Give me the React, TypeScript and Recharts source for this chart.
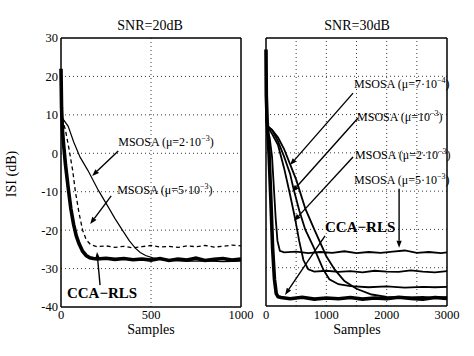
import React from 'react';
import { LineChart, Line, XAxis, YAxis, ReferenceLine, ReferenceDot } from 'recharts';

// ---------- Left panel (SNR = 20 dB) ----------
const leftXTicks = [0, 500, 1000];
const leftYTicks = [-40, -30, -20, -10, 0, 10, 20, 30];
const leftGridX = [500];
const leftGridY = [-30, -20, -10, 0, 10, 20];

const leftCcaSamples = [0, 3, 8, 15, 25, 40, 55, 70, 85, 100, 120, 140, 160, 180, 200, 250, 300, 350, 400, 450, 500, 550, 600, 650, 700, 750, 800, 850, 900, 950, 1000];
const leftCcaIsi = [22, 12, 6, 2, -3, -9, -14.5, -18.5, -21.5, -23.5, -25.5, -26.6, -27.2, -27.4, -27.5, -27.3, -27.6, -27.4, -27.7, -27.5, -27.8, -27.4, -27.9, -27.5, -27.8, -27.3, -27.9, -27.6, -27.4, -27.8, -27.5];

const leftMu5Samples = [0, 3, 10, 25, 45, 65, 80, 100, 120, 140, 165, 200, 250, 300, 350, 400, 450, 500, 550, 600, 650, 700, 750, 800, 850, 900, 950, 1000];
const leftMu5Isi = [20, 10, 8.5, 6, 1, -4.5, -10, -15.5, -20, -22.5, -23.8, -24.3, -24.1, -24.5, -24.2, -24.6, -24.3, -24.0, -24.4, -24.2, -24.5, -24.1, -24.3, -24.0, -24.4, -24.2, -23.9, -24.1];

const leftMu2Samples = [0, 3, 10, 40, 70, 106, 150, 207, 263, 300, 341, 380, 413, 440, 470, 510, 550, 600, 650, 700, 800, 900, 1000];
const leftMu2Isi = [21, 11, 9, 7, 3, -1, -4.5, -9.6, -14, -17, -20, -22.8, -24.7, -25.8, -26.6, -27.2, -27.6, -27.9, -28, -28.1, -28, -28.2, -28.1];

// ---------- Right panel (SNR = 30 dB) ----------
const rightXTicks = [0, 1000, 2000, 3000];
const rightGridX = [500, 1000, 1500, 2000, 2500];
const rightGridY = [-30, -20, -10, 0, 10, 20];

const rightCcaSamples = [0, 5, 20, 50, 80, 110, 140, 170, 200, 250, 400, 600, 800, 1000, 1200, 1400, 1600, 1800, 2000, 2200, 2400, 2600, 2800, 3000];
const rightCcaIsi = [27, 15, 8, 0, -12, -25, -33, -36.8, -37.6, -37.8, -38.1, -37.7, -38.2, -37.9, -38.1, -37.8, -38.2, -37.9, -38.1, -37.7, -38.0, -38.2, -37.8, -38.0];

const rightMu5Samples = [0, 5, 20, 60, 100, 130, 160, 190, 230, 300, 500, 700, 900, 1100, 1300, 1500, 1700, 1900, 2100, 2300, 2500, 2700, 2900, 3000];
const rightMu5Isi = [18, 9, 6, 4, -1, -9, -17, -23, -25.6, -26, -25.8, -26.2, -25.9, -26.1, -25.7, -26.2, -25.9, -26.1, -25.8, -25.5, -26.1, -25.9, -26.2, -26.0];

const rightMu2Samples = [0, 5, 20, 100, 200, 300, 400, 480, 550, 620, 700, 800, 1000, 1200, 1400, 1600, 1800, 2000, 2200, 2400, 2600, 2800, 3000];
const rightMu2Isi = [17, 9, 7, 5, 2, -4, -11, -17, -23, -28, -30.4, -31, -30.8, -31.1, -30.9, -31.2, -30.8, -31.0, -31.1, -30.7, -31.0, -31.2, -30.9];

const rightMu1Samples = [0, 5, 20, 100, 200, 300, 400, 450, 550, 650, 800, 950, 1050, 1200, 1400, 1700, 2000, 2300, 2600, 2800, 3000];
const rightMu1Isi = [17, 9, 7, 6, 3, -1, -5.5, -9, -15, -20, -25, -30.5, -33, -34.3, -34.8, -35.1, -34.9, -35.2, -35.0, -35.1, -35.0];

const rightMu07Samples = [0, 5, 20, 100, 200, 300, 400, 500, 650, 800, 1000, 1140, 1300, 1500, 1750, 2000, 2300, 2600, 2800, 3000];
const rightMu07Isi = [16, 9, 7, 6, 4, 1, -3, -7, -14.5, -20, -27, -30.5, -33.5, -35.5, -37, -37.6, -37.8, -37.6, -37.9, -37.7];

// ---------- Annotations (data coordinates) ----------
const leftLabels = [
  { text: 'MSOSA (μ=2·10', sup: '−3', x: 318, y: 1.9, bold: false },
  { text: 'MSOSA (μ=5·10', sup: '−3', x: 312, y: -10.6, bold: false },
  { text: 'CCA−RLS', sup: '', x: 33, y: -37.7, bold: true },
];
const leftArrows = [
  { x1: 318, y1: 0.6, x2: 173, y2: -5.9 },
  { x1: 279, y1: -11.1, x2: 162, y2: -18.4 },
  { x1: 217, y1: -34.3, x2: 200, y2: -25.7 },
];
const rightLabels = [
  { text: 'MSOSA (μ=7·10', sup: '−4', x: 1459, y: 16.9, bold: false },
  { text: 'MSOSA (μ=10', sup: '−3', x: 1509, y: 8.3, bold: false },
  { text: 'MSOSA (μ=2·10', sup: '−3', x: 1476, y: -1.6, bold: false },
  { text: 'MSOSA (μ=5·10', sup: '−3', x: 1459, y: -8.2, bold: false },
  { text: 'CCA−RLS', sup: '', x: 978, y: -20.7, bold: true },
];
const rightArrows = [
  { x1: 1443, y1: 15.6, x2: 398, y2: -3.2 },
  { x1: 1526, y1: 9.1, x2: 431, y2: -10.2 },
  { x1: 1443, y1: -1.1, x2: 464, y2: -17.8 },
  { x1: 2206, y1: -9.4, x2: 2206, y2: -24.8 },
  { x1: 978, y1: -21.7, x2: 315, y2: -37.1 },
];

const FONT = '"Liberation Serif", "DejaVu Serif", serif';

function pts(xs: number[], ys: number[]) {
  return xs.map((x, i) => ({ x, y: ys[i] }));
}

const ArrowShape = (props: any) => {
  const { x1, y1, x2, y2 } = props;
  const ang = Math.atan2(y2 - y1, x2 - x1);
  const L = 7;
  const W = 2.6;
  const bx = x2 - L * Math.cos(ang);
  const by = y2 - L * Math.sin(ang);
  const px = -Math.sin(ang) * W;
  const py = Math.cos(ang) * W;
  return (
    <g>
      <line x1={x1} y1={y1} x2={bx} y2={by} stroke="#000" strokeWidth={1.4} />
      <polygon points={`${x2},${y2} ${bx + px},${by + py} ${bx - px},${by - py}`} fill="#000" />
    </g>
  );
};

const makeLabelShape = (lab: { text: string; sup: string; bold: boolean }) => (p: any) => (
  <text
    x={p.cx}
    y={p.cy}
    fontFamily={FONT}
    fontSize={lab.bold ? 15 : 12}
    fontWeight={lab.bold ? 'bold' : 'normal'}
    fill="#000"
  >
    {lab.text}
    {lab.sup ? (
      <>
        <tspan dy={-5} fontSize={8}>{lab.sup}</tspan>
        <tspan dy={5}>)</tspan>
      </>
    ) : null}
  </text>
);

const gridStyle = { stroke: '#222', strokeDasharray: '1 3', strokeWidth: 0.9 };
const tickStyle = { fontFamily: FONT, fontSize: 12.5, fill: '#000' };

export default function App() {
  return (
    <div style={{ position: 'absolute', left: 0, top: 0, width: 474, height: 356, background: '#fff' }}>
      {/* Left chart */}
      <div style={{ position: 'absolute', left: 0, top: 0 }}>
        <LineChart width={262} height={356} margin={{ top: 38, right: 21, bottom: 19, left: 0 }}>
          <XAxis
            type="number"
            dataKey="x"
            domain={[0, 1000]}
            ticks={leftXTicks}
            height={30}
            tickLine={false}
            tickSize={0}
            tickMargin={3}
            tick={tickStyle}
            axisLine={{ stroke: '#000', strokeWidth: 1.5 }}
            interval={0}
          />
          <YAxis
            type="number"
            domain={[-40, 30]}
            ticks={leftYTicks}
            width={61}
            tickLine={false}
            tickSize={0}
            tickMargin={3}
            tick={tickStyle}
            axisLine={{ stroke: '#000', strokeWidth: 1.5 }}
            interval={0}
          />
          {leftGridY.map((v) => (
            <ReferenceLine key={'ly' + v} y={v} {...gridStyle} />
          ))}
          {leftGridX.map((v) => (
            <ReferenceLine key={'lx' + v} x={v} {...gridStyle} />
          ))}
          <ReferenceLine y={30} stroke="#000" strokeWidth={1.5} />
          <ReferenceLine x={1000} stroke="#000" strokeWidth={1.5} />
          <Line data={pts(leftMu2Samples, leftMu2Isi)} dataKey="y" stroke="#000" strokeWidth={1.2} dot={false} isAnimationActive={false} />
          <Line data={pts(leftMu5Samples, leftMu5Isi)} dataKey="y" stroke="#000" strokeWidth={1.3} strokeDasharray="4 3" dot={false} isAnimationActive={false} />
          <Line data={pts(leftCcaSamples, leftCcaIsi)} dataKey="y" stroke="#000" strokeWidth={3.6} dot={false} isAnimationActive={false} />
          {leftArrows.map((a, i) => (
            <ReferenceLine key={'la' + i} segment={[{ x: a.x1, y: a.y1 }, { x: a.x2, y: a.y2 }]} shape={ArrowShape} />
          ))}
          {leftLabels.map((l, i) => (
            <ReferenceDot key={'ll' + i} x={l.x} y={l.y} r={0} shape={makeLabelShape(l)} />
          ))}
        </LineChart>
      </div>

      {/* Right chart */}
      <div style={{ position: 'absolute', left: 260, top: 0 }}>
        <LineChart width={214} height={356} margin={{ top: 38, right: 27, bottom: 20, left: 6 }}>
          <XAxis
            type="number"
            dataKey="x"
            domain={[0, 3000]}
            ticks={rightXTicks}
            height={30}
            tickLine={false}
            tickSize={0}
            tickMargin={4}
            tick={tickStyle}
            axisLine={{ stroke: '#000', strokeWidth: 1.5 }}
            interval={0}
          />
          <YAxis type="number" domain={[-40, 30]} hide />
          {rightGridY.map((v) => (
            <ReferenceLine key={'ry' + v} y={v} {...gridStyle} />
          ))}
          {rightGridX.map((v) => (
            <ReferenceLine key={'rx' + v} x={v} {...gridStyle} />
          ))}
          <ReferenceLine y={30} stroke="#000" strokeWidth={1.5} />
          <ReferenceLine x={0} stroke="#000" strokeWidth={1.5} />
          <ReferenceLine x={3000} stroke="#000" strokeWidth={1.5} />
          <Line data={pts(rightMu07Samples, rightMu07Isi)} dataKey="y" stroke="#000" strokeWidth={1.8} dot={false} isAnimationActive={false} />
          <Line data={pts(rightMu1Samples, rightMu1Isi)} dataKey="y" stroke="#000" strokeWidth={1.8} dot={false} isAnimationActive={false} />
          <Line data={pts(rightMu2Samples, rightMu2Isi)} dataKey="y" stroke="#000" strokeWidth={1.8} dot={false} isAnimationActive={false} />
          <Line data={pts(rightMu5Samples, rightMu5Isi)} dataKey="y" stroke="#000" strokeWidth={1.8} dot={false} isAnimationActive={false} />
          <Line data={pts(rightCcaSamples, rightCcaIsi)} dataKey="y" stroke="#000" strokeWidth={3.6} dot={false} isAnimationActive={false} />
          {rightArrows.map((a, i) => (
            <ReferenceLine key={'ra' + i} segment={[{ x: a.x1, y: a.y1 }, { x: a.x2, y: a.y2 }]} shape={ArrowShape} />
          ))}
          {rightLabels.map((l, i) => (
            <ReferenceDot key={'rl' + i} x={l.x} y={l.y} r={0} shape={makeLabelShape(l)} />
          ))}
        </LineChart>
      </div>

      {/* Titles and axis labels */}
      <svg width={474} height={356} style={{ position: 'absolute', left: 0, top: 0, pointerEvents: 'none' }}>
        <text x={150} y={29.5} textAnchor="middle" fontFamily={FONT} fontSize={14} fill="#000">SNR=20dB</text>
        <text x={357} y={29.5} textAnchor="middle" fontFamily={FONT} fontSize={14} fill="#000">SNR=30dB</text>
        <text x={151} y={334} textAnchor="middle" fontFamily={FONT} fontSize={14} fill="#000">Samples</text>
        <text x={357} y={334} textAnchor="middle" fontFamily={FONT} fontSize={14} fill="#000">Samples</text>
        <text x={0} y={0} transform="translate(16,174) rotate(-90)" textAnchor="middle" fontFamily={FONT} fontSize={14} fill="#000">ISI (dB)</text>
      </svg>
    </div>
  );
}
